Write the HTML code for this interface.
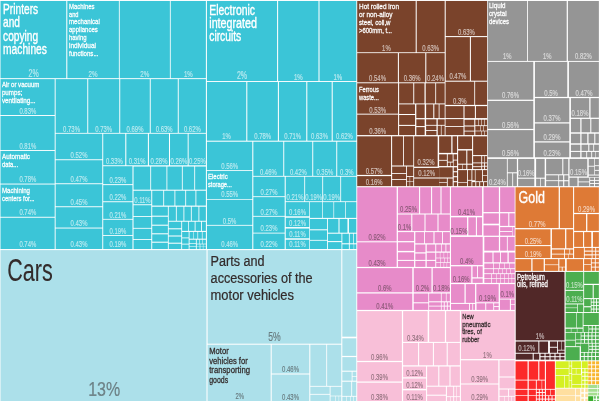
<!DOCTYPE html>
<html><head><meta charset="utf-8"><title>Treemap</title>
<style>
html,body{margin:0;padding:0;background:#fff;overflow:hidden}
svg{display:block;will-change:transform;opacity:0.999}
text{font-family:"Liberation Sans",sans-serif}
</style></head><body>
<svg width="600" height="401" viewBox="0 0 600 401">
<rect width="600" height="401" fill="#fff"/>
<g fill="#3bc5d7">
<rect x="0.5" y="0.97" width="65.78" height="77.21"/>
<rect x="67.32" y="0.97" width="51.56" height="77.21"/>
<rect x="119.72" y="0.97" width="50.16" height="77.21"/>
<rect x="170.72" y="0.97" width="35.16" height="77.21"/>
<rect x="206.92" y="0.97" width="70.16" height="80.06"/>
<rect x="278.12" y="0.97" width="40.36" height="80.06"/>
<rect x="319.52" y="0.97" width="36.81" height="80.06"/>
<rect x="0.5" y="79.12" width="54.18" height="35.91"/>
<rect x="0.5" y="115.97" width="54.18" height="34.01"/>
<rect x="0.5" y="150.92" width="54.18" height="32.66"/>
<rect x="0.5" y="184.52" width="54.18" height="32.26"/>
<rect x="0.5" y="217.72" width="54.18" height="31.31"/>
<rect x="55.62" y="79.12" width="31.66" height="53.76"/>
<rect x="88.22" y="79.12" width="31.06" height="53.76"/>
<rect x="120.22" y="79.12" width="29.56" height="53.76"/>
<rect x="150.72" y="79.12" width="27.06" height="53.76"/>
<rect x="178.72" y="79.12" width="27.16" height="53.76"/>
<rect x="103.22" y="133.72" width="22.06" height="31.56"/>
<rect x="126.32" y="133.72" width="21.56" height="31.56"/>
<rect x="148.92" y="133.72" width="20.06" height="31.56"/>
<rect x="170.02" y="133.72" width="17.66" height="31.56"/>
<rect x="188.62" y="133.72" width="17.26" height="31.56"/>
<rect x="55.62" y="133.72" width="46.66" height="25.56"/>
<rect x="55.62" y="160.22" width="46.66" height="23.06"/>
<rect x="55.62" y="184.22" width="46.66" height="22.06"/>
<rect x="55.62" y="207.22" width="46.66" height="20.36"/>
<rect x="55.62" y="228.52" width="46.66" height="20.51"/>
<rect x="103.22" y="166.22" width="29.26" height="17.96"/>
<rect x="103.22" y="185.12" width="29.26" height="16.16"/>
<rect x="103.22" y="202.22" width="29.26" height="16.66"/>
<rect x="103.22" y="219.72" width="29.26" height="15.36"/>
<rect x="103.22" y="235.92" width="29.26" height="13.11"/>
<rect x="133.52" y="166.52" width="16.76" height="23.16"/>
<rect x="151.12" y="166.52" width="15.36" height="23.16"/>
<rect x="167.32" y="166.52" width="14.56" height="23.16"/>
<rect x="182.72" y="166.52" width="11.56" height="23.16"/>
<rect x="195.12" y="166.52" width="10.76" height="23.16"/>
<rect x="133.52" y="190.72" width="17.76" height="13.56"/>
<rect x="152.22" y="190.72" width="11.06" height="14.86"/>
<rect x="164.12" y="190.72" width="10.36" height="14.86"/>
<rect x="175.32" y="190.72" width="9.96" height="14.86"/>
<rect x="186.12" y="190.72" width="9.36" height="14.86"/>
<rect x="196.32" y="190.72" width="9.56" height="14.86"/>
<rect x="133.52" y="205.22" width="17.76" height="10.86"/>
<rect x="133.52" y="216.92" width="17.76" height="10.96"/>
<rect x="133.52" y="228.72" width="17.76" height="10.36"/>
<rect x="133.52" y="239.92" width="17.76" height="9.11"/>
<rect x="152.22" y="206.72" width="15.66" height="8.96"/>
<rect x="152.22" y="216.72" width="15.66" height="7.96"/>
<rect x="152.22" y="225.72" width="15.66" height="7.56"/>
<rect x="152.22" y="234.32" width="15.66" height="7.36"/>
<rect x="152.22" y="242.72" width="15.66" height="6.31"/>
<rect x="168.72" y="206.72" width="7.16" height="14.06"/>
<rect x="176.72" y="206.72" width="6.76" height="14.06"/>
<rect x="184.32" y="206.72" width="6.56" height="14.06"/>
<rect x="191.72" y="206.72" width="6.76" height="14.06"/>
<rect x="199.32" y="206.72" width="6.56" height="14.06"/>
<rect x="168.72" y="221.72" width="12.56" height="6.56"/>
<rect x="168.72" y="229.32" width="12.56" height="6.16"/>
<rect x="168.72" y="236.52" width="12.56" height="6.16"/>
<rect x="168.72" y="243.72" width="12.56" height="5.31"/>
<rect x="182.12" y="221.72" width="6.16" height="9.16"/>
<rect x="189.02" y="221.72" width="5.66" height="9.16"/>
<rect x="195.52" y="221.72" width="5.56" height="9.16"/>
<rect x="201.92" y="221.72" width="3.96" height="9.16"/>
<rect x="182.12" y="231.92" width="6.56" height="5.56"/>
<rect x="182.12" y="238.32" width="6.56" height="5.36"/>
<rect x="182.12" y="244.52" width="6.56" height="4.51"/>
<rect x="189.52" y="231.92" width="3.96" height="6.76"/>
<rect x="193.92" y="231.92" width="3.56" height="6.76"/>
<rect x="198.12" y="231.92" width="3.76" height="6.76"/>
<rect x="202.52" y="231.92" width="3.36" height="6.76"/>
<rect x="189.52" y="239.72" width="6.36" height="3.56"/>
<rect x="189.52" y="243.92" width="6.36" height="2.36"/>
<rect x="189.52" y="246.72" width="6.36" height="2.31"/>
<rect x="196.72" y="239.72" width="2.56" height="3.96"/>
<rect x="199.72" y="239.72" width="2.76" height="3.96"/>
<rect x="202.92" y="239.72" width="2.96" height="3.96"/>
<rect x="196.72" y="244.32" width="2.96" height="2.36"/>
<rect x="200.32" y="244.32" width="2.56" height="2.36"/>
<rect x="203.32" y="244.32" width="2.56" height="2.36"/>
<rect x="196.72" y="246.92" width="2.96" height="2.11"/>
<rect x="200.32" y="246.92" width="2.56" height="2.11"/>
<rect x="203.32" y="246.92" width="2.56" height="2.11"/>
<rect x="206.92" y="81.97" width="39.36" height="58.71"/>
<rect x="247.32" y="81.97" width="30.56" height="58.71"/>
<rect x="278.92" y="81.97" width="27.36" height="58.71"/>
<rect x="307.32" y="81.97" width="24.36" height="58.71"/>
<rect x="332.72" y="81.97" width="23.61" height="58.71"/>
<rect x="206.92" y="141.72" width="45.36" height="28.46"/>
<rect x="253.32" y="141.72" width="29.96" height="34.16"/>
<rect x="284.22" y="141.72" width="28.06" height="34.16"/>
<rect x="313.22" y="141.72" width="23.06" height="34.16"/>
<rect x="337.22" y="141.72" width="19.11" height="34.16"/>
<rect x="206.92" y="171.02" width="45.36" height="27.96"/>
<rect x="206.92" y="199.72" width="45.36" height="25.16"/>
<rect x="206.92" y="225.72" width="45.36" height="23.31"/>
<rect x="253.32" y="176.72" width="31.36" height="19.56"/>
<rect x="253.32" y="197.12" width="31.36" height="18.76"/>
<rect x="253.32" y="216.72" width="31.36" height="15.96"/>
<rect x="253.32" y="233.52" width="31.36" height="15.51"/>
<rect x="285.72" y="176.72" width="18.56" height="24.56"/>
<rect x="305.12" y="176.72" width="17.16" height="24.56"/>
<rect x="323.12" y="176.72" width="17.16" height="24.56"/>
<rect x="341.12" y="176.72" width="15.21" height="24.56"/>
<rect x="285.72" y="202.12" width="23.56" height="14.16"/>
<rect x="285.72" y="217.72" width="23.56" height="9.36"/>
<rect x="285.72" y="228.52" width="23.56" height="9.76"/>
<rect x="285.72" y="239.72" width="23.56" height="9.31"/>
<rect x="309.92" y="202.12" width="12.36" height="15.76"/>
<rect x="322.92" y="202.12" width="10.56" height="15.76"/>
<rect x="334.12" y="202.12" width="11.16" height="15.76"/>
<rect x="345.92" y="202.12" width="10.41" height="15.76"/>
<rect x="309.92" y="218.92" width="17.16" height="10.36"/>
<rect x="309.92" y="230.32" width="17.16" height="9.56"/>
<rect x="309.92" y="240.72" width="17.16" height="8.31"/>
<rect x="327.92" y="218.92" width="10.56" height="13.76"/>
<rect x="339.52" y="218.92" width="7.96" height="13.76"/>
<rect x="348.92" y="218.92" width="7.41" height="13.76"/>
<rect x="327.92" y="233.72" width="13.56" height="7.36"/>
<rect x="327.92" y="242.12" width="13.56" height="6.91"/>
<rect x="342.32" y="233.72" width="6.56" height="9.56"/>
<rect x="342.32" y="244.32" width="6.56" height="4.71"/>
<rect x="349.72" y="233.72" width="3.36" height="9.56"/>
<rect x="353.72" y="233.72" width="2.61" height="9.56"/>
<rect x="349.72" y="244.32" width="3.96" height="4.71"/>
<rect x="354.12" y="244.32" width="2.21" height="4.71"/>
</g>
<g fill="#ace0ea">
<rect x="0.5" y="250.12" width="205.98" height="152.16"/>
<rect x="207.62" y="250.12" width="133.66" height="93.56"/>
<rect x="207.52" y="344.72" width="63.16" height="57.56"/>
<rect x="271.72" y="344.72" width="37.56" height="28.76"/>
<rect x="271.72" y="374.52" width="37.56" height="27.76"/>
<rect x="310.32" y="344.72" width="15.96" height="41.16"/>
<rect x="327.12" y="344.72" width="14.16" height="41.16"/>
<rect x="310.32" y="386.72" width="19.36" height="7.16"/>
<rect x="310.32" y="394.72" width="19.36" height="7.56"/>
<rect x="330.52" y="386.72" width="10.76" height="8.96"/>
<rect x="330.52" y="396.32" width="4.76" height="5.96"/>
<rect x="335.72" y="396.32" width="2.96" height="5.96"/>
<rect x="339.12" y="396.32" width="2.16" height="5.96"/>
<rect x="342.32" y="250.12" width="13.96" height="86.56"/>
<rect x="342.32" y="338.32" width="13.96" height="17.56"/>
<rect x="342.32" y="357.12" width="13.96" height="13.56"/>
<rect x="342.32" y="371.72" width="9.36" height="8.96"/>
<rect x="352.52" y="371.72" width="3.76" height="4.56"/>
<rect x="352.52" y="376.92" width="3.76" height="3.76"/>
<rect x="342.32" y="381.72" width="8.96" height="14.16"/>
<rect x="352.12" y="381.72" width="4.16" height="14.16"/>
<rect x="342.32" y="396.72" width="3.96" height="5.56"/>
<rect x="346.72" y="396.72" width="3.56" height="5.56"/>
<rect x="350.72" y="396.72" width="2.56" height="5.56"/>
<rect x="353.72" y="396.72" width="2.56" height="5.56"/>
</g>
<g fill="#7a432b">
<rect x="357.22" y="0.97" width="58.46" height="51.31"/>
<rect x="416.72" y="0.97" width="27.96" height="51.31"/>
<rect x="445.72" y="0.97" width="41.36" height="35.11"/>
<rect x="445.72" y="37.12" width="24.16" height="43.56"/>
<rect x="470.92" y="37.12" width="16.16" height="43.56"/>
<rect x="357.22" y="53.12" width="40.66" height="29.21"/>
<rect x="398.92" y="53.12" width="26.36" height="29.21"/>
<rect x="426.32" y="53.12" width="18.36" height="29.21"/>
<rect x="357.22" y="83.27" width="40.86" height="30.41"/>
<rect x="357.22" y="114.62" width="40.86" height="20.46"/>
<rect x="399.12" y="83.27" width="14.16" height="20.16"/>
<rect x="414.22" y="83.27" width="10.26" height="20.16"/>
<rect x="425.72" y="83.27" width="9.56" height="20.16"/>
<rect x="436.12" y="83.27" width="8.56" height="20.16"/>
<rect x="399.12" y="104.37" width="15.96" height="9.61"/>
<rect x="399.12" y="115.02" width="15.96" height="9.86"/>
<rect x="399.12" y="125.92" width="15.96" height="9.16"/>
<rect x="416.32" y="104.37" width="8.36" height="13.71"/>
<rect x="416.32" y="119.32" width="8.36" height="6.76"/>
<rect x="416.32" y="127.12" width="8.36" height="7.96"/>
<rect x="426.12" y="104.37" width="7.16" height="13.71"/>
<rect x="434.32" y="104.37" width="4.36" height="13.71"/>
<rect x="439.52" y="104.37" width="5.16" height="13.71"/>
<rect x="426.12" y="119.32" width="10.36" height="5.56"/>
<rect x="426.12" y="125.72" width="10.36" height="4.36"/>
<rect x="426.12" y="130.92" width="10.36" height="4.16"/>
<rect x="437.72" y="119.32" width="6.96" height="5.56"/>
<rect x="437.72" y="125.72" width="3.16" height="9.36"/>
<rect x="441.52" y="125.72" width="3.16" height="9.36"/>
<rect x="445.52" y="81.72" width="28.76" height="23.16"/>
<rect x="475.12" y="81.72" width="11.96" height="23.16"/>
<rect x="445.52" y="106.12" width="17.96" height="11.96"/>
<rect x="464.52" y="106.12" width="10.36" height="11.96"/>
<rect x="475.92" y="106.12" width="11.16" height="11.96"/>
<rect x="445.52" y="119.12" width="17.96" height="6.96"/>
<rect x="445.52" y="126.92" width="17.96" height="8.16"/>
<rect x="464.52" y="119.72" width="9.76" height="5.76"/>
<rect x="464.52" y="126.52" width="9.76" height="4.16"/>
<rect x="464.52" y="131.52" width="9.76" height="3.56"/>
<rect x="475.32" y="119.72" width="2.96" height="5.56"/>
<rect x="478.72" y="119.72" width="2.56" height="5.56"/>
<rect x="481.72" y="119.72" width="2.56" height="5.56"/>
<rect x="484.72" y="119.72" width="2.36" height="5.56"/>
<rect x="475.32" y="126.12" width="4.96" height="4.56"/>
<rect x="480.72" y="126.12" width="2.56" height="4.56"/>
<rect x="483.72" y="126.12" width="3.36" height="4.56"/>
<rect x="475.32" y="131.32" width="5.96" height="3.76"/>
<rect x="481.72" y="131.32" width="2.56" height="3.76"/>
<rect x="484.72" y="131.32" width="2.36" height="3.76"/>
<rect x="357.22" y="136.32" width="33.86" height="38.56"/>
<rect x="357.22" y="176.12" width="33.86" height="10.01"/>
<rect x="392.12" y="136.32" width="10.96" height="29.16"/>
<rect x="403.92" y="136.32" width="9.36" height="29.16"/>
<rect x="392.12" y="166.52" width="13.96" height="6.56"/>
<rect x="392.12" y="173.92" width="13.96" height="5.16"/>
<rect x="392.12" y="179.92" width="13.96" height="6.21"/>
<rect x="406.92" y="166.52" width="6.36" height="9.56"/>
<rect x="406.92" y="176.92" width="2.76" height="4.36"/>
<rect x="410.12" y="176.92" width="3.16" height="4.36"/>
<rect x="406.92" y="181.72" width="2.76" height="4.41"/>
<rect x="410.12" y="181.72" width="3.16" height="4.41"/>
<rect x="414.12" y="136.32" width="23.56" height="30.36"/>
<rect x="414.12" y="167.92" width="24.96" height="9.56"/>
<rect x="414.12" y="178.52" width="24.96" height="7.61"/>
<rect x="439.12" y="136.32" width="12.16" height="16.56"/>
<rect x="452.52" y="136.32" width="4.56" height="16.56"/>
<rect x="458.12" y="136.32" width="13.96" height="12.76"/>
<rect x="473.12" y="136.32" width="13.96" height="18.76"/>
<rect x="458.12" y="150.52" width="8.16" height="13.16"/>
<rect x="467.32" y="150.52" width="4.76" height="13.16"/>
<rect x="439.12" y="154.32" width="7.76" height="5.56"/>
<rect x="439.12" y="160.72" width="7.76" height="5.36"/>
<rect x="447.72" y="154.32" width="4.96" height="7.36"/>
<rect x="453.52" y="154.32" width="3.56" height="5.36"/>
<rect x="447.72" y="162.52" width="2.56" height="3.56"/>
<rect x="450.72" y="162.52" width="2.56" height="3.56"/>
<rect x="453.72" y="160.52" width="3.36" height="5.56"/>
<rect x="439.12" y="167.32" width="13.56" height="10.16"/>
<rect x="439.12" y="178.52" width="7.76" height="3.56"/>
<rect x="439.12" y="182.72" width="7.76" height="3.41"/>
<rect x="447.72" y="178.52" width="4.96" height="7.61"/>
<rect x="453.72" y="167.32" width="3.36" height="3.88"/>
<rect x="453.72" y="172.29" width="3.36" height="3.88"/>
<rect x="453.72" y="177.27" width="3.36" height="3.89"/>
<rect x="453.72" y="182.25" width="3.36" height="3.88"/>
<rect x="458.12" y="164.72" width="4.16" height="4.36"/>
<rect x="462.72" y="164.72" width="3.56" height="4.36"/>
<rect x="467.32" y="164.72" width="4.76" height="4.36"/>
<rect x="458.12" y="170.12" width="8.96" height="11.96"/>
<rect x="458.12" y="182.72" width="8.96" height="3.41"/>
<rect x="467.92" y="170.12" width="3.56" height="9.76"/>
<rect x="467.92" y="180.72" width="3.56" height="5.41"/>
<rect x="473.12" y="156.12" width="8.16" height="6.36"/>
<rect x="482.12" y="156.12" width="2.16" height="6.36"/>
<rect x="484.72" y="156.12" width="2.36" height="6.36"/>
<rect x="473.12" y="163.32" width="8.16" height="2.96"/>
<rect x="482.12" y="163.32" width="2.03" height="2.44"/>
<rect x="482.12" y="166.65" width="2.03" height="2.44"/>
<rect x="485.05" y="163.32" width="2.03" height="2.44"/>
<rect x="485.05" y="166.65" width="2.03" height="2.44"/>
<rect x="473.12" y="167.12" width="8.16" height="1.96"/>
<rect x="472.32" y="170.12" width="2.56" height="10.16"/>
<rect x="475.52" y="170.12" width="6.56" height="11.16"/>
<rect x="482.92" y="170.12" width="4.16" height="5.16"/>
<rect x="482.92" y="175.92" width="4.16" height="5.36"/>
<rect x="472.32" y="182.12" width="3.02" height="4.01"/>
<rect x="476.23" y="182.12" width="3.02" height="4.01"/>
<rect x="480.15" y="182.12" width="3.02" height="4.01"/>
<rect x="484.06" y="182.12" width="3.02" height="4.01"/>
</g>
<g fill="#959595">
<rect x="487.72" y="0.97" width="39.36" height="59.96"/>
<rect x="527.92" y="0.97" width="38.76" height="59.96"/>
<rect x="567.92" y="0.97" width="30.96" height="59.96"/>
<rect x="487.72" y="61.87" width="45.56" height="37.81"/>
<rect x="487.72" y="100.92" width="45.56" height="27.96"/>
<rect x="487.72" y="130.12" width="45.56" height="27.16"/>
<rect x="534.92" y="61.87" width="32.36" height="35.01"/>
<rect x="568.92" y="61.87" width="29.96" height="35.01"/>
<rect x="534.92" y="98.12" width="34.36" height="24.16"/>
<rect x="534.92" y="123.52" width="34.36" height="17.76"/>
<rect x="534.92" y="142.52" width="34.36" height="14.76"/>
<rect x="570.92" y="98.12" width="18.36" height="19.56"/>
<rect x="590.52" y="98.12" width="8.36" height="19.56"/>
<rect x="570.92" y="118.92" width="9.36" height="13.36"/>
<rect x="581.52" y="118.92" width="8.76" height="13.36"/>
<rect x="591.32" y="118.92" width="7.56" height="13.36"/>
<rect x="570.92" y="133.72" width="9.36" height="9.56"/>
<rect x="581.52" y="133.72" width="5.76" height="9.56"/>
<rect x="588.52" y="133.72" width="5.76" height="9.56"/>
<rect x="595.32" y="133.72" width="3.56" height="9.56"/>
<rect x="570.92" y="144.72" width="9.36" height="6.16"/>
<rect x="581.52" y="144.72" width="6.76" height="6.16"/>
<rect x="589.32" y="144.72" width="3.96" height="6.16"/>
<rect x="594.12" y="144.72" width="4.76" height="6.16"/>
<rect x="570.92" y="151.92" width="9.36" height="5.36"/>
<rect x="581.52" y="151.92" width="4.76" height="5.36"/>
<rect x="587.12" y="151.92" width="4.16" height="5.36"/>
<rect x="592.12" y="151.92" width="3.16" height="5.36"/>
<rect x="595.72" y="151.92" width="3.16" height="5.36"/>
<rect x="487.72" y="158.92" width="19.16" height="27.21"/>
<rect x="507.72" y="158.92" width="9.16" height="13.36"/>
<rect x="507.72" y="173.32" width="4.56" height="12.81"/>
<rect x="513.12" y="173.32" width="3.76" height="12.81"/>
<rect x="518.12" y="158.92" width="16.16" height="18.76"/>
<rect x="518.12" y="178.72" width="16.16" height="7.41"/>
<rect x="536.12" y="158.92" width="8.56" height="18.76"/>
<rect x="536.12" y="178.72" width="4.16" height="7.41"/>
<rect x="540.92" y="178.72" width="3.76" height="7.41"/>
<rect x="546.12" y="158.92" width="16.16" height="15.36"/>
<rect x="563.32" y="158.92" width="4.96" height="15.36"/>
<rect x="546.12" y="175.32" width="12.16" height="4.96"/>
<rect x="546.12" y="181.12" width="12.16" height="5.01"/>
<rect x="559.12" y="175.32" width="4.03" height="4.86"/>
<rect x="559.12" y="181.27" width="4.03" height="4.86"/>
<rect x="564.25" y="175.32" width="4.03" height="4.86"/>
<rect x="564.25" y="181.27" width="4.03" height="4.86"/>
<rect x="569.52" y="158.92" width="17.76" height="17.56"/>
<rect x="569.52" y="177.72" width="7.96" height="8.41"/>
<rect x="578.62" y="177.72" width="10.66" height="3.76"/>
<rect x="578.62" y="182.32" width="10.66" height="3.81"/>
<rect x="588.72" y="158.92" width="5.56" height="6.86"/>
<rect x="588.72" y="166.62" width="5.56" height="7.96"/>
<rect x="594.92" y="158.92" width="3.96" height="6.36"/>
<rect x="594.92" y="166.12" width="3.96" height="3.79"/>
<rect x="594.92" y="170.8" width="3.96" height="3.78"/>
<rect x="588.72" y="175.52" width="10.16" height="1.66"/>
<rect x="590.12" y="177.72" width="3.93" height="2.21"/>
<rect x="590.12" y="180.82" width="3.93" height="2.21"/>
<rect x="590.12" y="183.92" width="3.93" height="2.21"/>
<rect x="594.95" y="177.72" width="3.93" height="2.21"/>
<rect x="594.95" y="180.82" width="3.93" height="2.21"/>
<rect x="594.95" y="183.92" width="3.93" height="2.21"/>
</g>
<g fill="#e78bc9">
<rect x="357.22" y="187.27" width="39.46" height="54.01"/>
<rect x="357.22" y="242.32" width="39.46" height="24.56"/>
<rect x="357.22" y="268.12" width="55.06" height="24.16"/>
<rect x="357.22" y="293.52" width="55.06" height="16.36"/>
<rect x="397.92" y="187.27" width="21.16" height="26.21"/>
<rect x="420.12" y="187.27" width="10.96" height="26.21"/>
<rect x="432.12" y="187.27" width="8.36" height="26.21"/>
<rect x="441.52" y="187.27" width="8.36" height="26.21"/>
<rect x="397.92" y="214.52" width="13.36" height="16.56"/>
<rect x="412.32" y="214.52" width="12.16" height="16.56"/>
<rect x="425.52" y="214.52" width="11.96" height="16.56"/>
<rect x="438.52" y="214.52" width="11.36" height="16.56"/>
<rect x="397.92" y="232.12" width="16.16" height="8.96"/>
<rect x="415.32" y="232.12" width="8.76" height="11.16"/>
<rect x="424.92" y="232.12" width="8.56" height="11.16"/>
<rect x="434.52" y="232.12" width="7.56" height="11.16"/>
<rect x="442.92" y="232.12" width="6.96" height="11.16"/>
<rect x="397.92" y="242.32" width="16.16" height="8.56"/>
<rect x="397.92" y="252.32" width="16.16" height="7.56"/>
<rect x="397.92" y="260.92" width="16.16" height="5.96"/>
<rect x="415.32" y="244.52" width="10.16" height="7.76"/>
<rect x="415.32" y="253.52" width="10.16" height="6.36"/>
<rect x="415.32" y="260.92" width="10.16" height="5.96"/>
<rect x="426.72" y="244.52" width="8.56" height="6.96"/>
<rect x="426.72" y="252.72" width="8.56" height="7.16"/>
<rect x="426.72" y="260.92" width="8.56" height="5.96"/>
<rect x="436.22" y="244.52" width="5.06" height="6.96"/>
<rect x="441.92" y="244.52" width="3.56" height="6.96"/>
<rect x="446.32" y="244.52" width="3.56" height="6.96"/>
<rect x="436.22" y="252.72" width="3.66" height="4.96"/>
<rect x="440.32" y="252.72" width="3.36" height="4.96"/>
<rect x="444.12" y="252.72" width="2.96" height="4.96"/>
<rect x="447.32" y="252.72" width="2.56" height="4.96"/>
<rect x="436.22" y="258.32" width="4.06" height="3.96"/>
<rect x="440.72" y="258.32" width="3.56" height="3.96"/>
<rect x="444.72" y="258.32" width="2.56" height="3.96"/>
<rect x="447.72" y="258.32" width="2.16" height="3.96"/>
<rect x="436.22" y="262.92" width="4.06" height="3.96"/>
<rect x="440.72" y="262.92" width="2.96" height="3.96"/>
<rect x="444.12" y="262.92" width="2.56" height="3.96"/>
<rect x="447.12" y="262.92" width="2.76" height="3.96"/>
<rect x="413.72" y="268.12" width="17.76" height="24.16"/>
<rect x="432.72" y="268.12" width="17.16" height="24.16"/>
<rect x="413.72" y="293.52" width="14.56" height="8.76"/>
<rect x="413.72" y="303.32" width="14.56" height="6.56"/>
<rect x="429.12" y="293.52" width="11.76" height="7.76"/>
<rect x="429.12" y="302.32" width="11.76" height="3.36"/>
<rect x="429.12" y="306.52" width="11.76" height="3.36"/>
<rect x="441.62" y="293.52" width="4.26" height="7.76"/>
<rect x="446.52" y="293.52" width="3.36" height="7.76"/>
<rect x="441.62" y="302.32" width="2.16" height="3.33"/>
<rect x="441.62" y="306.55" width="2.16" height="3.33"/>
<rect x="444.67" y="302.32" width="2.16" height="3.33"/>
<rect x="444.67" y="306.55" width="2.16" height="3.33"/>
<rect x="447.72" y="302.32" width="2.16" height="3.33"/>
<rect x="447.72" y="306.55" width="2.16" height="3.33"/>
<rect x="451.02" y="187.27" width="31.06" height="28.61"/>
<rect x="451.02" y="217.32" width="16.06" height="17.96"/>
<rect x="468.32" y="217.32" width="7.56" height="17.96"/>
<rect x="476.92" y="217.32" width="5.16" height="17.96"/>
<rect x="451.02" y="236.92" width="31.66" height="28.16"/>
<rect x="451.02" y="266.32" width="20.26" height="16.56"/>
<rect x="472.52" y="266.32" width="4.56" height="10.96"/>
<rect x="477.92" y="266.32" width="4.76" height="10.96"/>
<rect x="472.52" y="278.52" width="10.16" height="4.36"/>
<rect x="451.02" y="284.12" width="13.46" height="18.76"/>
<rect x="465.72" y="284.12" width="9.36" height="18.76"/>
<rect x="451.02" y="303.92" width="18.06" height="5.96"/>
<rect x="469.92" y="303.92" width="2.46" height="5.96"/>
<rect x="473.12" y="303.92" width="1.96" height="5.96"/>
<rect x="476.32" y="284.12" width="22.36" height="18.16"/>
<rect x="476.52" y="303.32" width="8.76" height="6.56"/>
<rect x="486.22" y="303.32" width="7.06" height="6.56"/>
<rect x="494.12" y="303.32" width="4.56" height="2.83"/>
<rect x="494.12" y="307.05" width="4.56" height="2.83"/>
<rect x="499.92" y="284.12" width="14.76" height="14.56"/>
<rect x="499.92" y="299.52" width="9.96" height="10.36"/>
<rect x="510.92" y="299.52" width="3.76" height="4.76"/>
<rect x="510.92" y="304.92" width="3.76" height="4.96"/>
<rect x="483.52" y="187.27" width="15.36" height="24.81"/>
<rect x="500.12" y="187.27" width="14.56" height="24.81"/>
<rect x="483.52" y="213.32" width="15.36" height="10.36"/>
<rect x="483.52" y="225.32" width="15.36" height="10.36"/>
<rect x="500.12" y="213.32" width="8.16" height="12.56"/>
<rect x="509.32" y="213.32" width="5.36" height="12.56"/>
<rect x="500.12" y="227.12" width="11.96" height="3.96"/>
<rect x="500.12" y="231.92" width="11.96" height="3.76"/>
<rect x="512.52" y="227.12" width="2.16" height="8.56"/>
<rect x="484.32" y="236.92" width="14.56" height="13.76"/>
<rect x="500.12" y="236.92" width="6.76" height="13.76"/>
<rect x="507.72" y="236.92" width="6.96" height="13.76"/>
<rect x="484.32" y="252.52" width="8.16" height="9.76"/>
<rect x="493.52" y="252.52" width="6.56" height="9.76"/>
<rect x="500.92" y="252.52" width="6.56" height="9.76"/>
<rect x="508.72" y="252.52" width="5.96" height="9.76"/>
<rect x="484.32" y="263.52" width="8.96" height="4.76"/>
<rect x="493.92" y="263.52" width="5.36" height="4.76"/>
<rect x="499.92" y="263.52" width="4.36" height="4.76"/>
<rect x="504.72" y="263.52" width="4.56" height="4.76"/>
<rect x="509.72" y="263.52" width="4.96" height="4.76"/>
<rect x="484.32" y="269.12" width="8.96" height="4.16"/>
<rect x="493.92" y="269.12" width="4.36" height="4.16"/>
<rect x="498.72" y="269.12" width="3.56" height="4.16"/>
<rect x="502.72" y="269.12" width="3.56" height="4.16"/>
<rect x="506.72" y="269.12" width="3.56" height="4.16"/>
<rect x="510.72" y="269.12" width="3.96" height="4.16"/>
<rect x="484.32" y="274.12" width="6.96" height="4.16"/>
<rect x="491.92" y="274.12" width="4.36" height="4.16"/>
<rect x="496.72" y="274.12" width="3.56" height="4.16"/>
<rect x="500.72" y="274.12" width="3.56" height="4.16"/>
<rect x="504.72" y="274.12" width="3.56" height="4.16"/>
<rect x="508.72" y="274.12" width="2.96" height="4.16"/>
<rect x="512.12" y="274.12" width="2.56" height="4.16"/>
<rect x="484.32" y="278.92" width="6.96" height="3.96"/>
<rect x="491.92" y="278.92" width="4.36" height="3.96"/>
<rect x="496.72" y="278.92" width="3.56" height="3.96"/>
<rect x="500.72" y="278.92" width="3.56" height="3.96"/>
<rect x="504.72" y="278.92" width="3.56" height="3.96"/>
<rect x="508.72" y="278.92" width="2.96" height="3.96"/>
<rect x="512.12" y="278.92" width="2.56" height="3.96"/>
</g>
<g fill="#f8bfd8">
<rect x="357.22" y="311.12" width="44.66" height="49.76"/>
<rect x="357.22" y="362.12" width="44.66" height="19.36"/>
<rect x="357.22" y="382.72" width="44.66" height="19.56"/>
<rect x="403.12" y="311.12" width="24.56" height="30.76"/>
<rect x="429.12" y="311.12" width="15.76" height="30.76"/>
<rect x="446.12" y="311.12" width="13.76" height="30.76"/>
<rect x="403.12" y="342.92" width="14.96" height="22.36"/>
<rect x="419.12" y="342.92" width="13.76" height="22.36"/>
<rect x="433.92" y="342.92" width="12.76" height="22.36"/>
<rect x="447.72" y="342.92" width="12.16" height="22.36"/>
<rect x="403.12" y="366.52" width="22.96" height="10.76"/>
<rect x="403.12" y="378.52" width="22.96" height="10.36"/>
<rect x="403.12" y="390.32" width="22.96" height="11.96"/>
<rect x="427.12" y="366.52" width="11.16" height="19.16"/>
<rect x="439.32" y="366.52" width="10.16" height="19.16"/>
<rect x="450.52" y="366.52" width="9.36" height="19.16"/>
<rect x="427.12" y="386.72" width="18.76" height="7.96"/>
<rect x="427.12" y="395.72" width="18.76" height="6.56"/>
<rect x="446.92" y="386.72" width="6.36" height="9.56"/>
<rect x="454.12" y="386.72" width="2.16" height="9.56"/>
<rect x="456.72" y="386.72" width="3.16" height="9.56"/>
<rect x="446.92" y="397.12" width="3.36" height="5.16"/>
<rect x="450.72" y="397.12" width="2.56" height="5.16"/>
<rect x="454.12" y="397.12" width="2.16" height="5.16"/>
<rect x="456.72" y="397.12" width="3.16" height="5.16"/>
<rect x="460.92" y="311.12" width="53.76" height="47.96"/>
<rect x="460.92" y="360.32" width="37.36" height="23.16"/>
<rect x="460.92" y="384.52" width="37.36" height="17.76"/>
<rect x="499.52" y="360.32" width="15.16" height="16.16"/>
<rect x="499.52" y="377.52" width="15.16" height="10.96"/>
<rect x="499.52" y="389.52" width="8.56" height="6.36"/>
<rect x="508.92" y="389.52" width="5.76" height="6.36"/>
<rect x="499.52" y="396.72" width="4.76" height="5.56"/>
<rect x="504.72" y="396.72" width="3.56" height="5.56"/>
<rect x="508.72" y="396.72" width="2.56" height="5.56"/>
<rect x="511.72" y="396.72" width="2.96" height="5.56"/>
</g>
<g fill="#de7a36">
<rect x="515.47" y="187.27" width="43.21" height="40.81"/>
<rect x="559.92" y="187.27" width="13.16" height="40.81"/>
<rect x="574.12" y="187.27" width="24.76" height="25.61"/>
<rect x="574.12" y="214.12" width="11.96" height="16.76"/>
<rect x="587.32" y="214.12" width="11.56" height="16.76"/>
<rect x="515.47" y="229.32" width="35.01" height="15.76"/>
<rect x="515.47" y="246.12" width="35.01" height="11.96"/>
<rect x="551.92" y="229.32" width="13.16" height="18.96"/>
<rect x="566.32" y="229.32" width="6.76" height="18.96"/>
<rect x="574.12" y="232.12" width="8.96" height="14.76"/>
<rect x="584.12" y="232.12" width="7.16" height="14.76"/>
<rect x="592.92" y="232.12" width="5.96" height="14.76"/>
<rect x="551.92" y="249.52" width="12.16" height="4.16"/>
<rect x="551.92" y="254.52" width="12.16" height="3.56"/>
<rect x="564.92" y="249.52" width="4.56" height="4.16"/>
<rect x="570.12" y="249.52" width="2.96" height="4.16"/>
<rect x="564.92" y="254.52" width="3.36" height="3.56"/>
<rect x="568.72" y="254.52" width="4.36" height="3.56"/>
<rect x="574.12" y="247.92" width="9.76" height="10.16"/>
<rect x="584.72" y="247.92" width="6.96" height="2.66"/>
<rect x="584.72" y="251.67" width="6.96" height="2.66"/>
<rect x="584.72" y="255.42" width="6.96" height="2.66"/>
<rect x="592.52" y="247.92" width="2.73" height="2.79"/>
<rect x="592.52" y="251.6" width="2.73" height="2.79"/>
<rect x="592.52" y="255.29" width="2.73" height="2.79"/>
<rect x="596.14" y="247.92" width="2.74" height="2.79"/>
<rect x="596.14" y="251.6" width="2.74" height="2.79"/>
<rect x="596.14" y="255.29" width="2.74" height="2.79"/>
<rect x="515.47" y="259.12" width="15.81" height="11.76"/>
<rect x="532.52" y="259.12" width="11.16" height="11.76"/>
<rect x="544.92" y="259.12" width="13.36" height="5.36"/>
<rect x="544.92" y="265.12" width="13.36" height="5.76"/>
<rect x="559.32" y="259.12" width="5.76" height="7.66"/>
<rect x="559.32" y="267.32" width="2.43" height="3.56"/>
<rect x="562.64" y="267.32" width="2.43" height="3.56"/>
<rect x="566.72" y="259.12" width="16.36" height="11.76"/>
<rect x="584.12" y="259.12" width="6.76" height="5.16"/>
<rect x="584.12" y="264.92" width="6.76" height="5.96"/>
<rect x="591.72" y="259.12" width="3.13" height="3.33"/>
<rect x="591.72" y="263.34" width="3.13" height="3.33"/>
<rect x="591.72" y="267.55" width="3.13" height="3.33"/>
<rect x="595.75" y="259.12" width="3.13" height="3.33"/>
<rect x="595.75" y="263.34" width="3.13" height="3.33"/>
<rect x="595.75" y="267.55" width="3.13" height="3.33"/>
</g>
<g fill="#512828">
<rect x="515.72" y="271.92" width="48.76" height="68.46"/>
<rect x="515.72" y="341.52" width="22.66" height="11.26"/>
<rect x="539.32" y="341.52" width="8.76" height="11.26"/>
<rect x="549.92" y="341.52" width="7.16" height="5.26"/>
<rect x="549.92" y="347.72" width="7.16" height="5.06"/>
<rect x="557.92" y="341.52" width="3.26" height="8.26"/>
<rect x="561.52" y="341.52" width="2.96" height="8.26"/>
<rect x="557.92" y="350.52" width="6.56" height="2.26"/>
<rect x="515.72" y="353.72" width="16.96" height="5.96"/>
<rect x="533.72" y="353.72" width="5.56" height="5.96"/>
<rect x="540.52" y="353.72" width="4" height="2.48"/>
<rect x="540.52" y="357.19" width="4" height="2.48"/>
<rect x="545.51" y="353.72" width="4" height="2.48"/>
<rect x="545.51" y="357.19" width="4" height="2.48"/>
<rect x="550.5" y="353.72" width="4" height="2.48"/>
<rect x="550.5" y="357.19" width="4" height="2.48"/>
<rect x="555.49" y="353.72" width="4" height="2.48"/>
<rect x="555.49" y="357.19" width="4" height="2.48"/>
<rect x="560.48" y="353.72" width="4" height="2.48"/>
<rect x="560.48" y="357.19" width="4" height="2.48"/>
</g>
<g fill="#4cae4f">
<rect x="565.62" y="271.92" width="17.66" height="17.96"/>
<rect x="565.62" y="290.82" width="17.66" height="12.66"/>
<rect x="565.62" y="304.42" width="11.46" height="3.16"/>
<rect x="565.62" y="308.12" width="11.46" height="3.96"/>
<rect x="577.72" y="304.42" width="5.56" height="7.66"/>
<rect x="565.62" y="313.02" width="10.66" height="14.56"/>
<rect x="576.82" y="313.02" width="5.86" height="14.56"/>
<rect x="584.12" y="271.92" width="14.76" height="11.86"/>
<rect x="584.12" y="285.02" width="8.56" height="13.06"/>
<rect x="593.72" y="285.02" width="5.16" height="13.06"/>
<rect x="584.12" y="299.12" width="6.66" height="7.06"/>
<rect x="584.12" y="307.32" width="6.66" height="4.76"/>
<rect x="591.52" y="299.12" width="1.86" height="2.57"/>
<rect x="591.52" y="302.58" width="1.86" height="2.57"/>
<rect x="591.52" y="306.05" width="1.86" height="2.57"/>
<rect x="591.52" y="309.51" width="1.86" height="2.57"/>
<rect x="594.27" y="299.12" width="1.86" height="2.57"/>
<rect x="594.27" y="302.58" width="1.86" height="2.57"/>
<rect x="594.27" y="306.05" width="1.86" height="2.57"/>
<rect x="594.27" y="309.51" width="1.86" height="2.57"/>
<rect x="597.02" y="299.12" width="1.86" height="2.57"/>
<rect x="597.02" y="302.58" width="1.86" height="2.57"/>
<rect x="597.02" y="306.05" width="1.86" height="2.57"/>
<rect x="597.02" y="309.51" width="1.86" height="2.57"/>
<rect x="583.52" y="313.02" width="15.36" height="11.96"/>
<rect x="565.62" y="328.72" width="5.26" height="3.36"/>
<rect x="571.32" y="328.72" width="5.56" height="3.36"/>
<rect x="577.32" y="328.72" width="5.36" height="3.36"/>
<rect x="583.52" y="325.92" width="4.96" height="6.16"/>
<rect x="589.12" y="325.92" width="2.66" height="2.63"/>
<rect x="589.12" y="329.45" width="2.66" height="2.63"/>
<rect x="592.67" y="325.92" width="2.66" height="2.63"/>
<rect x="592.67" y="329.45" width="2.66" height="2.63"/>
<rect x="596.22" y="325.92" width="2.66" height="2.63"/>
<rect x="596.22" y="329.45" width="2.66" height="2.63"/>
<rect x="565.62" y="332.72" width="9.66" height="7.06"/>
<rect x="575.82" y="332.72" width="4.86" height="6.76"/>
<rect x="581.32" y="332.72" width="2.8" height="2.79"/>
<rect x="581.32" y="336.4" width="2.8" height="2.79"/>
<rect x="581.32" y="340.09" width="2.8" height="2.79"/>
<rect x="585.01" y="332.72" width="2.8" height="2.79"/>
<rect x="585.01" y="336.4" width="2.8" height="2.79"/>
<rect x="585.01" y="340.09" width="2.8" height="2.79"/>
<rect x="588.7" y="332.72" width="2.8" height="2.79"/>
<rect x="588.7" y="336.4" width="2.8" height="2.79"/>
<rect x="588.7" y="340.09" width="2.8" height="2.79"/>
<rect x="592.39" y="332.72" width="2.8" height="2.79"/>
<rect x="592.39" y="336.4" width="2.8" height="2.79"/>
<rect x="592.39" y="340.09" width="2.8" height="2.79"/>
<rect x="596.08" y="332.72" width="2.8" height="2.79"/>
<rect x="596.08" y="336.4" width="2.8" height="2.79"/>
<rect x="596.08" y="340.09" width="2.8" height="2.79"/>
<rect x="565.62" y="340.52" width="9.66" height="5.66"/>
<rect x="575.82" y="340.12" width="4.86" height="2.63"/>
<rect x="575.82" y="343.65" width="4.86" height="2.63"/>
<rect x="565.62" y="347.12" width="14.06" height="13.16"/>
<rect x="580.92" y="343.62" width="7.56" height="8.36"/>
<rect x="589.12" y="343.62" width="2.66" height="2.19"/>
<rect x="589.12" y="346.7" width="2.66" height="2.19"/>
<rect x="589.12" y="349.79" width="2.66" height="2.19"/>
<rect x="592.67" y="343.62" width="2.66" height="2.19"/>
<rect x="592.67" y="346.7" width="2.66" height="2.19"/>
<rect x="592.67" y="349.79" width="2.66" height="2.19"/>
<rect x="596.22" y="343.62" width="2.66" height="2.19"/>
<rect x="596.22" y="346.7" width="2.66" height="2.19"/>
<rect x="596.22" y="349.79" width="2.66" height="2.19"/>
<rect x="580.92" y="352.72" width="2.88" height="3.33"/>
<rect x="580.92" y="356.95" width="2.88" height="3.33"/>
<rect x="584.69" y="352.72" width="2.88" height="3.33"/>
<rect x="584.69" y="356.95" width="2.88" height="3.33"/>
<rect x="588.46" y="352.72" width="2.88" height="3.33"/>
<rect x="588.46" y="356.95" width="2.88" height="3.33"/>
<rect x="592.23" y="352.72" width="2.88" height="3.33"/>
<rect x="592.23" y="356.95" width="2.88" height="3.33"/>
<rect x="596" y="352.72" width="2.88" height="3.33"/>
<rect x="596" y="356.95" width="2.88" height="3.33"/>
</g>
<g fill="#fc2a2a">
<rect x="515.52" y="361.32" width="12.06" height="18.36"/>
<rect x="515.52" y="380.52" width="12.06" height="8.36"/>
<rect x="515.52" y="389.72" width="12.06" height="5.56"/>
<rect x="515.52" y="395.92" width="12.06" height="6.36"/>
<rect x="528.72" y="361.32" width="9.56" height="18.36"/>
<rect x="528.72" y="380.52" width="7.16" height="8.36"/>
<rect x="528.72" y="389.72" width="7.16" height="5.56"/>
<rect x="528.72" y="395.92" width="7.16" height="6.36"/>
<rect x="539.32" y="361.32" width="5.56" height="18.36"/>
<rect x="536.72" y="380.52" width="4.96" height="8.36"/>
<rect x="542.12" y="380.52" width="2.76" height="8.36"/>
<rect x="545.92" y="361.32" width="8.96" height="27.56"/>
<rect x="536.72" y="389.72" width="2.13" height="2.33"/>
<rect x="536.72" y="392.95" width="2.13" height="2.33"/>
<rect x="539.74" y="389.72" width="2.13" height="2.33"/>
<rect x="539.74" y="392.95" width="2.13" height="2.33"/>
<rect x="542.75" y="389.72" width="2.13" height="2.33"/>
<rect x="542.75" y="392.95" width="2.13" height="2.33"/>
<rect x="536.72" y="395.92" width="2.13" height="2.73"/>
<rect x="536.72" y="399.55" width="2.13" height="2.73"/>
<rect x="539.74" y="395.92" width="2.13" height="2.73"/>
<rect x="539.74" y="399.55" width="2.13" height="2.73"/>
<rect x="542.75" y="395.92" width="2.13" height="2.73"/>
<rect x="542.75" y="399.55" width="2.13" height="2.73"/>
<rect x="545.92" y="389.72" width="4.36" height="5.56"/>
<rect x="550.72" y="389.72" width="4.16" height="5.56"/>
<rect x="545.92" y="395.92" width="2.39" height="2.73"/>
<rect x="545.92" y="399.55" width="2.39" height="2.73"/>
<rect x="549.2" y="395.92" width="2.39" height="2.73"/>
<rect x="549.2" y="399.55" width="2.39" height="2.73"/>
<rect x="552.49" y="395.92" width="2.39" height="2.73"/>
<rect x="552.49" y="399.55" width="2.39" height="2.73"/>
</g>
<g fill="#d5f022">
<rect x="555.72" y="361.32" width="13.06" height="6.76"/>
<rect x="555.72" y="368.72" width="13.06" height="6.36"/>
<rect x="555.72" y="375.72" width="8.66" height="12.06"/>
<rect x="564.92" y="375.72" width="3.86" height="12.06"/>
<rect x="569.32" y="361.32" width="2.16" height="4.36"/>
<rect x="569.32" y="366.32" width="2.16" height="6.96"/>
<rect x="569.32" y="373.92" width="2.16" height="6.36"/>
<rect x="569.32" y="380.72" width="2.16" height="7.06"/>
<rect x="572.12" y="361.32" width="8.86" height="6.76"/>
<rect x="572.12" y="368.72" width="3.76" height="5.16"/>
<rect x="576.32" y="368.72" width="4.66" height="5.16"/>
<rect x="572.12" y="374.52" width="9.36" height="9.46"/>
<rect x="572.12" y="384.62" width="9.36" height="3.16"/>
<rect x="581.72" y="361.32" width="6.06" height="6.76"/>
<rect x="582.12" y="368.72" width="2.38" height="3.1"/>
<rect x="582.12" y="372.71" width="2.38" height="3.1"/>
<rect x="582.12" y="376.7" width="2.38" height="3.1"/>
<rect x="582.12" y="380.69" width="2.38" height="3.1"/>
<rect x="582.12" y="384.68" width="2.38" height="3.1"/>
<rect x="585.39" y="368.72" width="2.38" height="3.1"/>
<rect x="585.39" y="372.71" width="2.38" height="3.1"/>
<rect x="585.39" y="376.7" width="2.38" height="3.1"/>
<rect x="585.39" y="380.69" width="2.38" height="3.1"/>
<rect x="585.39" y="384.68" width="2.38" height="3.1"/>
</g>
<g fill="#ffdf9f">
<rect x="555.72" y="388.62" width="19.56" height="6.76"/>
<rect x="555.72" y="395.82" width="19.56" height="6.46"/>
<rect x="576.02" y="388.62" width="4.26" height="6.66"/>
<rect x="576.02" y="396.32" width="4.26" height="5.96"/>
<rect x="581.32" y="388.62" width="2.53" height="3.63"/>
<rect x="581.32" y="393.64" width="2.53" height="3.63"/>
<rect x="581.32" y="398.65" width="2.53" height="3.63"/>
<rect x="585.25" y="388.62" width="2.53" height="3.63"/>
<rect x="585.25" y="393.64" width="2.53" height="3.63"/>
<rect x="585.25" y="398.65" width="2.53" height="3.63"/>
</g>
<g fill="#f8b62d">
<rect x="588.22" y="361.32" width="3.03" height="3.08"/>
<rect x="588.22" y="365.3" width="3.03" height="3.08"/>
<rect x="588.22" y="369.27" width="3.03" height="3.08"/>
<rect x="588.22" y="373.25" width="3.03" height="3.08"/>
<rect x="588.22" y="377.22" width="3.03" height="3.08"/>
<rect x="588.22" y="381.2" width="3.03" height="3.08"/>
<rect x="592.14" y="361.32" width="3.03" height="3.08"/>
<rect x="592.14" y="365.3" width="3.03" height="3.08"/>
<rect x="592.14" y="369.27" width="3.03" height="3.08"/>
<rect x="592.14" y="373.25" width="3.03" height="3.08"/>
<rect x="592.14" y="377.22" width="3.03" height="3.08"/>
<rect x="592.14" y="381.2" width="3.03" height="3.08"/>
<rect x="596.05" y="361.32" width="3.03" height="3.08"/>
<rect x="596.05" y="365.3" width="3.03" height="3.08"/>
<rect x="596.05" y="369.27" width="3.03" height="3.08"/>
<rect x="596.05" y="373.25" width="3.03" height="3.08"/>
<rect x="596.05" y="377.22" width="3.03" height="3.08"/>
<rect x="596.05" y="381.2" width="3.03" height="3.08"/>
</g>
<g fill="#a5de90">
<rect x="588.22" y="384.92" width="8.96" height="3.06"/>
<rect x="588.22" y="388.82" width="8.96" height="2.96"/>
<rect x="588.22" y="392.62" width="8.96" height="2.86"/>
<rect x="597.62" y="384.92" width="1.46" height="3.06"/>
<rect x="597.62" y="388.82" width="1.46" height="2.96"/>
<rect x="597.62" y="392.62" width="1.46" height="2.86"/>
</g>
<g fill="#38ac2c">
<rect x="588.22" y="396.22" width="4.86" height="6.06"/>
</g>
<g fill="#6cc464">
<rect x="593.72" y="396.22" width="2.13" height="2.48"/>
<rect x="593.72" y="399.8" width="2.13" height="2.48"/>
<rect x="596.95" y="396.22" width="2.13" height="2.48"/>
<rect x="596.95" y="399.8" width="2.13" height="2.48"/>
</g>
<g>
<text x="3.1" y="13.75" font-size="14.3" fill="#fff" textLength="35" lengthAdjust="spacingAndGlyphs" stroke="#fff" stroke-width="0.38">Printers</text>
<text x="3.1" y="27.25" font-size="14.3" fill="#fff" textLength="16.9" lengthAdjust="spacingAndGlyphs" stroke="#fff" stroke-width="0.38">and</text>
<text x="3.1" y="40.75" font-size="14.3" fill="#fff" textLength="35" lengthAdjust="spacingAndGlyphs" stroke="#fff" stroke-width="0.38">copying</text>
<text x="3.1" y="54.25" font-size="14.3" fill="#fff" textLength="43.8" lengthAdjust="spacingAndGlyphs" stroke="#fff" stroke-width="0.38">machines</text>
<text x="69" y="8.6" font-size="8" fill="#fff" textLength="25.5" lengthAdjust="spacingAndGlyphs" stroke="#fff" stroke-width="0.27">Machines</text>
<text x="69" y="16.52" font-size="8" fill="#fff" textLength="9.5" lengthAdjust="spacingAndGlyphs" stroke="#fff" stroke-width="0.27">and</text>
<text x="69" y="24.44" font-size="8" fill="#fff" textLength="30.8" lengthAdjust="spacingAndGlyphs" stroke="#fff" stroke-width="0.27">mechanical</text>
<text x="69" y="32.36" font-size="8" fill="#fff" textLength="28.8" lengthAdjust="spacingAndGlyphs" stroke="#fff" stroke-width="0.27">appliances</text>
<text x="69" y="40.28" font-size="8" fill="#fff" textLength="17.5" lengthAdjust="spacingAndGlyphs" stroke="#fff" stroke-width="0.27">having</text>
<text x="69" y="48.2" font-size="8" fill="#fff" textLength="27" lengthAdjust="spacingAndGlyphs" stroke="#fff" stroke-width="0.27">individual</text>
<text x="69" y="56.12" font-size="8" fill="#fff" textLength="29.5" lengthAdjust="spacingAndGlyphs" stroke="#fff" stroke-width="0.27">functions...</text>
<text x="209.25" y="14.5" font-size="14" fill="#fff" textLength="45.75" lengthAdjust="spacingAndGlyphs" stroke="#fff" stroke-width="0.38">Electronic</text>
<text x="209.25" y="27.5" font-size="14" fill="#fff" textLength="47.75" lengthAdjust="spacingAndGlyphs" stroke="#fff" stroke-width="0.38">integrated</text>
<text x="209.25" y="40.5" font-size="14" fill="#fff" textLength="32" lengthAdjust="spacingAndGlyphs" stroke="#fff" stroke-width="0.38">circuits</text>
<text x="1.9" y="87.2" font-size="8" fill="#fff" textLength="37.5" lengthAdjust="spacingAndGlyphs" stroke="#fff" stroke-width="0.27">Air or vacuum</text>
<text x="1.9" y="94.95" font-size="8" fill="#fff" textLength="20.3" lengthAdjust="spacingAndGlyphs" stroke="#fff" stroke-width="0.27">pumps;</text>
<text x="1.9" y="102.7" font-size="8" fill="#fff" textLength="33.7" lengthAdjust="spacingAndGlyphs" stroke="#fff" stroke-width="0.27">ventilating...</text>
<text x="2" y="158.5" font-size="8" fill="#fff" textLength="28" lengthAdjust="spacingAndGlyphs" stroke="#fff" stroke-width="0.27">Automatic</text>
<text x="2" y="166.5" font-size="8" fill="#fff" textLength="16" lengthAdjust="spacingAndGlyphs" stroke="#fff" stroke-width="0.27">data...</text>
<text x="2" y="193.0" font-size="8" fill="#fff" textLength="28" lengthAdjust="spacingAndGlyphs" stroke="#fff" stroke-width="0.27">Machining</text>
<text x="2" y="200.8" font-size="8" fill="#fff" textLength="32.5" lengthAdjust="spacingAndGlyphs" stroke="#fff" stroke-width="0.27">centers for...</text>
<text x="208" y="179.0" font-size="8" fill="#fff" textLength="19.7" lengthAdjust="spacingAndGlyphs" stroke="#fff" stroke-width="0.27">Electric</text>
<text x="208" y="186.9" font-size="8" fill="#fff" textLength="23.75" lengthAdjust="spacingAndGlyphs" stroke="#fff" stroke-width="0.27">storage...</text>
<text x="359" y="8.5" font-size="8" fill="#fff" textLength="40" lengthAdjust="spacingAndGlyphs" stroke="#fff" stroke-width="0.27">Hot rolled iron</text>
<text x="359" y="16.5" font-size="8" fill="#fff" textLength="33.5" lengthAdjust="spacingAndGlyphs" stroke="#fff" stroke-width="0.27">or non-alloy</text>
<text x="359" y="24.5" font-size="8" fill="#fff" textLength="31.5" lengthAdjust="spacingAndGlyphs" stroke="#fff" stroke-width="0.27">steel, coil,w</text>
<text x="359" y="32.5" font-size="8" fill="#fff" textLength="33" lengthAdjust="spacingAndGlyphs" stroke="#fff" stroke-width="0.27">&gt;600mm, t...</text>
<text x="359" y="91.6" font-size="8" fill="#fff" textLength="19.75" lengthAdjust="spacingAndGlyphs" stroke="#fff" stroke-width="0.27">Ferrous</text>
<text x="359" y="99.6" font-size="8" fill="#fff" textLength="19.75" lengthAdjust="spacingAndGlyphs" stroke="#fff" stroke-width="0.27">waste...</text>
<text x="488.9" y="8.1" font-size="8" fill="#fff" textLength="16.6" lengthAdjust="spacingAndGlyphs" stroke="#fff" stroke-width="0.27">Liquid</text>
<text x="488.9" y="16.1" font-size="8" fill="#fff" textLength="17.7" lengthAdjust="spacingAndGlyphs" stroke="#fff" stroke-width="0.27">crystal</text>
<text x="488.9" y="24.1" font-size="8" fill="#fff" textLength="20.1" lengthAdjust="spacingAndGlyphs" stroke="#fff" stroke-width="0.27">devices</text>
<text x="518.6" y="203.2" font-size="16" fill="#fff" textLength="26.3" lengthAdjust="spacingAndGlyphs" stroke="#fff" stroke-width="0.38">Gold</text>
<text x="517" y="279.6" font-size="8.2" fill="#fff" textLength="28" lengthAdjust="spacingAndGlyphs" stroke="#fff" stroke-width="0.27">Petroleum</text>
<text x="517" y="287.3" font-size="8.2" fill="#fff" textLength="31" lengthAdjust="spacingAndGlyphs" stroke="#fff" stroke-width="0.27">oils, refined</text>
<text x="462.2" y="318.6" font-size="8" fill="#332b2b" textLength="11.6" lengthAdjust="spacingAndGlyphs" stroke="#332b2b" stroke-width="0.27">New</text>
<text x="462.2" y="326.5" font-size="8" fill="#332b2b" textLength="28.3" lengthAdjust="spacingAndGlyphs" stroke="#332b2b" stroke-width="0.27">pneumatic</text>
<text x="462.2" y="334.4" font-size="8" fill="#332b2b" textLength="19.6" lengthAdjust="spacingAndGlyphs" stroke="#332b2b" stroke-width="0.27">tires, of</text>
<text x="462.2" y="342.3" font-size="8" fill="#332b2b" textLength="17.1" lengthAdjust="spacingAndGlyphs" stroke="#332b2b" stroke-width="0.27">rubber</text>
<text x="7.2" y="281.25" font-size="31.4" fill="#332b2b" textLength="45.6" lengthAdjust="spacingAndGlyphs" stroke="#332b2b" stroke-width="0.1">Cars</text>
<text x="210.6" y="265.5" font-size="14" fill="#332b2b" textLength="54" lengthAdjust="spacingAndGlyphs" stroke="#332b2b" stroke-width="0.22">Parts and</text>
<text x="210.6" y="282.5" font-size="14" fill="#332b2b" textLength="102" lengthAdjust="spacingAndGlyphs" stroke="#332b2b" stroke-width="0.22">accessories of the</text>
<text x="210.6" y="299.5" font-size="14" fill="#332b2b" textLength="83.4" lengthAdjust="spacingAndGlyphs" stroke="#332b2b" stroke-width="0.22">motor vehicles</text>
<text x="209.2" y="354.2" font-size="9" fill="#332b2b" textLength="19.5" lengthAdjust="spacingAndGlyphs" stroke="#332b2b" stroke-width="0.27">Motor</text>
<text x="209.2" y="363.65" font-size="9" fill="#332b2b" textLength="38.5" lengthAdjust="spacingAndGlyphs" stroke="#332b2b" stroke-width="0.27">vehicles for</text>
<text x="209.2" y="373.1" font-size="9" fill="#332b2b" textLength="40.8" lengthAdjust="spacingAndGlyphs" stroke="#332b2b" stroke-width="0.27">transporting</text>
<text x="209.2" y="382.55" font-size="9" fill="#332b2b" textLength="19" lengthAdjust="spacingAndGlyphs" stroke="#332b2b" stroke-width="0.27">goods</text>
<text transform="translate(33.6,76.7) scale(0.64,1)" text-anchor="middle" font-size="11" fill="#fff" fill-opacity="0.56" stroke="#fff" stroke-opacity="0.56" stroke-width="0.22">2%</text>
<text transform="translate(93.1,76.5) scale(0.66,1)" text-anchor="middle" font-size="9.5" fill="#fff" fill-opacity="0.56" stroke="#fff" stroke-opacity="0.56" stroke-width="0.22">2%</text>
<text transform="translate(144.8,76.5) scale(0.66,1)" text-anchor="middle" font-size="9.5" fill="#fff" fill-opacity="0.56" stroke="#fff" stroke-opacity="0.56" stroke-width="0.22">2%</text>
<text transform="translate(188.3,77.0) scale(0.68,1)" text-anchor="middle" font-size="9" fill="#fff" fill-opacity="0.56" stroke="#fff" stroke-opacity="0.56" stroke-width="0.22">1%</text>
<text transform="translate(242,79.2) scale(0.64,1)" text-anchor="middle" font-size="11" fill="#fff" fill-opacity="0.56" stroke="#fff" stroke-opacity="0.56" stroke-width="0.22">2%</text>
<text transform="translate(298.3,79.5) scale(0.68,1)" text-anchor="middle" font-size="9" fill="#fff" fill-opacity="0.56" stroke="#fff" stroke-opacity="0.56" stroke-width="0.22">1%</text>
<text transform="translate(337.8,79.5) scale(0.68,1)" text-anchor="middle" font-size="9" fill="#fff" fill-opacity="0.56" stroke="#fff" stroke-opacity="0.56" stroke-width="0.22">1%</text>
<text transform="translate(27.8,113.6) scale(0.64,1)" text-anchor="middle" font-size="9.3" fill="#fff" fill-opacity="0.56" stroke="#fff" stroke-opacity="0.56" stroke-width="0.22">0.83%</text>
<text transform="translate(27.8,148.6) scale(0.64,1)" text-anchor="middle" font-size="9.3" fill="#fff" fill-opacity="0.56" stroke="#fff" stroke-opacity="0.56" stroke-width="0.22">0.81%</text>
<text transform="translate(27.8,182.2) scale(0.64,1)" text-anchor="middle" font-size="9.3" fill="#fff" fill-opacity="0.56" stroke="#fff" stroke-opacity="0.56" stroke-width="0.22">0.78%</text>
<text transform="translate(27.8,214.8) scale(0.64,1)" text-anchor="middle" font-size="9.3" fill="#fff" fill-opacity="0.56" stroke="#fff" stroke-opacity="0.56" stroke-width="0.22">0.74%</text>
<text transform="translate(27.8,247.3) scale(0.64,1)" text-anchor="middle" font-size="9.3" fill="#fff" fill-opacity="0.56" stroke="#fff" stroke-opacity="0.56" stroke-width="0.22">0.74%</text>
<text transform="translate(71.5,131.5) scale(0.64,1)" text-anchor="middle" font-size="9.3" fill="#fff" fill-opacity="0.56" stroke="#fff" stroke-opacity="0.56" stroke-width="0.22">0.73%</text>
<text transform="translate(103.7,131.5) scale(0.64,1)" text-anchor="middle" font-size="9.3" fill="#fff" fill-opacity="0.56" stroke="#fff" stroke-opacity="0.56" stroke-width="0.22">0.73%</text>
<text transform="translate(135,131.5) scale(0.64,1)" text-anchor="middle" font-size="9.3" fill="#fff" fill-opacity="0.56" stroke="#fff" stroke-opacity="0.56" stroke-width="0.22">0.69%</text>
<text transform="translate(164.2,131.5) scale(0.64,1)" text-anchor="middle" font-size="9.3" fill="#fff" fill-opacity="0.56" stroke="#fff" stroke-opacity="0.56" stroke-width="0.22">0.63%</text>
<text transform="translate(192.3,131.5) scale(0.64,1)" text-anchor="middle" font-size="9.3" fill="#fff" fill-opacity="0.56" stroke="#fff" stroke-opacity="0.56" stroke-width="0.22">0.62%</text>
<text transform="translate(114.3,163.9) scale(0.64,1)" text-anchor="middle" font-size="9.3" fill="#fff" fill-opacity="0.56" stroke="#fff" stroke-opacity="0.56" stroke-width="0.22">0.33%</text>
<text transform="translate(137.1,163.9) scale(0.64,1)" text-anchor="middle" font-size="9.3" fill="#fff" fill-opacity="0.56" stroke="#fff" stroke-opacity="0.56" stroke-width="0.22">0.31%</text>
<text transform="translate(159,163.9) scale(0.64,1)" text-anchor="middle" font-size="9.3" fill="#fff" fill-opacity="0.56" stroke="#fff" stroke-opacity="0.56" stroke-width="0.22">0.28%</text>
<text transform="translate(178.9,163.9) scale(0.64,1)" text-anchor="middle" font-size="9.3" fill="#fff" fill-opacity="0.56" stroke="#fff" stroke-opacity="0.56" stroke-width="0.22">0.26%</text>
<text transform="translate(197.3,163.9) scale(0.64,1)" text-anchor="middle" font-size="9.3" fill="#fff" fill-opacity="0.56" stroke="#fff" stroke-opacity="0.56" stroke-width="0.22">0.25%</text>
<text transform="translate(79,157.9) scale(0.64,1)" text-anchor="middle" font-size="9.3" fill="#fff" fill-opacity="0.56" stroke="#fff" stroke-opacity="0.56" stroke-width="0.22">0.52%</text>
<text transform="translate(79,181.9) scale(0.64,1)" text-anchor="middle" font-size="9.3" fill="#fff" fill-opacity="0.56" stroke="#fff" stroke-opacity="0.56" stroke-width="0.22">0.47%</text>
<text transform="translate(79,204.9) scale(0.64,1)" text-anchor="middle" font-size="9.3" fill="#fff" fill-opacity="0.56" stroke="#fff" stroke-opacity="0.56" stroke-width="0.22">0.45%</text>
<text transform="translate(79,226.2) scale(0.64,1)" text-anchor="middle" font-size="9.3" fill="#fff" fill-opacity="0.56" stroke="#fff" stroke-opacity="0.56" stroke-width="0.22">0.43%</text>
<text transform="translate(79,247.3) scale(0.64,1)" text-anchor="middle" font-size="9.3" fill="#fff" fill-opacity="0.56" stroke="#fff" stroke-opacity="0.56" stroke-width="0.22">0.43%</text>
<text transform="translate(117.9,182.8) scale(0.64,1)" text-anchor="middle" font-size="9.3" fill="#fff" fill-opacity="0.56" stroke="#fff" stroke-opacity="0.56" stroke-width="0.22">0.23%</text>
<text transform="translate(117.9,199.9) scale(0.64,1)" text-anchor="middle" font-size="9.3" fill="#fff" fill-opacity="0.56" stroke="#fff" stroke-opacity="0.56" stroke-width="0.22">0.22%</text>
<text transform="translate(117.9,217.5) scale(0.64,1)" text-anchor="middle" font-size="9.3" fill="#fff" fill-opacity="0.56" stroke="#fff" stroke-opacity="0.56" stroke-width="0.22">0.21%</text>
<text transform="translate(117.9,233.7) scale(0.64,1)" text-anchor="middle" font-size="9.3" fill="#fff" fill-opacity="0.56" stroke="#fff" stroke-opacity="0.56" stroke-width="0.22">0.19%</text>
<text transform="translate(117.9,247.3) scale(0.64,1)" text-anchor="middle" font-size="9.3" fill="#fff" fill-opacity="0.56" stroke="#fff" stroke-opacity="0.56" stroke-width="0.22">0.19%</text>
<text transform="translate(142.4,202.9) scale(0.64,1)" text-anchor="middle" font-size="9.3" fill="#fff" fill-opacity="0.56" stroke="#fff" stroke-opacity="0.56" stroke-width="0.22">0.11%</text>
<text transform="translate(226.6,139.3) scale(0.64,1)" text-anchor="middle" font-size="9.3" fill="#fff" fill-opacity="0.56" stroke="#fff" stroke-opacity="0.56" stroke-width="0.22">1%</text>
<text transform="translate(262.6,139.3) scale(0.64,1)" text-anchor="middle" font-size="9.3" fill="#fff" fill-opacity="0.56" stroke="#fff" stroke-opacity="0.56" stroke-width="0.22">0.78%</text>
<text transform="translate(292.6,139.3) scale(0.64,1)" text-anchor="middle" font-size="9.3" fill="#fff" fill-opacity="0.56" stroke="#fff" stroke-opacity="0.56" stroke-width="0.22">0.71%</text>
<text transform="translate(319.5,139.3) scale(0.64,1)" text-anchor="middle" font-size="9.3" fill="#fff" fill-opacity="0.56" stroke="#fff" stroke-opacity="0.56" stroke-width="0.22">0.63%</text>
<text transform="translate(344.4,139.3) scale(0.64,1)" text-anchor="middle" font-size="9.3" fill="#fff" fill-opacity="0.56" stroke="#fff" stroke-opacity="0.56" stroke-width="0.22">0.62%</text>
<text transform="translate(229.6,168.5) scale(0.64,1)" text-anchor="middle" font-size="9.3" fill="#fff" fill-opacity="0.56" stroke="#fff" stroke-opacity="0.56" stroke-width="0.22">0.56%</text>
<text transform="translate(268.3,174.5) scale(0.64,1)" text-anchor="middle" font-size="9.3" fill="#fff" fill-opacity="0.56" stroke="#fff" stroke-opacity="0.56" stroke-width="0.22">0.46%</text>
<text transform="translate(298.3,174.5) scale(0.64,1)" text-anchor="middle" font-size="9.3" fill="#fff" fill-opacity="0.56" stroke="#fff" stroke-opacity="0.56" stroke-width="0.22">0.42%</text>
<text transform="translate(324.8,174.5) scale(0.64,1)" text-anchor="middle" font-size="9.3" fill="#fff" fill-opacity="0.56" stroke="#fff" stroke-opacity="0.56" stroke-width="0.22">0.35%</text>
<text transform="translate(346.7,174.5) scale(0.64,1)" text-anchor="middle" font-size="9.3" fill="#fff" fill-opacity="0.56" stroke="#fff" stroke-opacity="0.56" stroke-width="0.22">0.3%</text>
<text transform="translate(229.6,197.3) scale(0.64,1)" text-anchor="middle" font-size="9.3" fill="#fff" fill-opacity="0.56" stroke="#fff" stroke-opacity="0.56" stroke-width="0.22">0.55%</text>
<text transform="translate(229.6,223.5) scale(0.64,1)" text-anchor="middle" font-size="9.3" fill="#fff" fill-opacity="0.56" stroke="#fff" stroke-opacity="0.56" stroke-width="0.22">0.5%</text>
<text transform="translate(229.6,247.3) scale(0.64,1)" text-anchor="middle" font-size="9.3" fill="#fff" fill-opacity="0.56" stroke="#fff" stroke-opacity="0.56" stroke-width="0.22">0.46%</text>
<text transform="translate(269,194.9) scale(0.64,1)" text-anchor="middle" font-size="9.3" fill="#fff" fill-opacity="0.56" stroke="#fff" stroke-opacity="0.56" stroke-width="0.22">0.27%</text>
<text transform="translate(269,214.5) scale(0.64,1)" text-anchor="middle" font-size="9.3" fill="#fff" fill-opacity="0.56" stroke="#fff" stroke-opacity="0.56" stroke-width="0.22">0.27%</text>
<text transform="translate(269,231.3) scale(0.64,1)" text-anchor="middle" font-size="9.3" fill="#fff" fill-opacity="0.56" stroke="#fff" stroke-opacity="0.56" stroke-width="0.22">0.23%</text>
<text transform="translate(269,247.3) scale(0.64,1)" text-anchor="middle" font-size="9.3" fill="#fff" fill-opacity="0.56" stroke="#fff" stroke-opacity="0.56" stroke-width="0.22">0.22%</text>
<text transform="translate(295,199.9) scale(0.64,1)" text-anchor="middle" font-size="9.3" fill="#fff" fill-opacity="0.56" stroke="#fff" stroke-opacity="0.56" stroke-width="0.22">0.21%</text>
<text transform="translate(313.7,199.9) scale(0.64,1)" text-anchor="middle" font-size="9.3" fill="#fff" fill-opacity="0.56" stroke="#fff" stroke-opacity="0.56" stroke-width="0.22">0.19%</text>
<text transform="translate(331.7,199.9) scale(0.64,1)" text-anchor="middle" font-size="9.3" fill="#fff" fill-opacity="0.56" stroke="#fff" stroke-opacity="0.56" stroke-width="0.22">0.19%</text>
<text transform="translate(297.5,214.9) scale(0.64,1)" text-anchor="middle" font-size="9.3" fill="#fff" fill-opacity="0.56" stroke="#fff" stroke-opacity="0.56" stroke-width="0.22">0.16%</text>
<text transform="translate(297.5,225.7) scale(0.64,1)" text-anchor="middle" font-size="9.3" fill="#fff" fill-opacity="0.56" stroke="#fff" stroke-opacity="0.56" stroke-width="0.22">0.12%</text>
<text transform="translate(297.5,236.9) scale(0.64,1)" text-anchor="middle" font-size="9.3" fill="#fff" fill-opacity="0.56" stroke="#fff" stroke-opacity="0.56" stroke-width="0.22">0.11%</text>
<text transform="translate(297.5,247.3) scale(0.64,1)" text-anchor="middle" font-size="9.3" fill="#fff" fill-opacity="0.56" stroke="#fff" stroke-opacity="0.56" stroke-width="0.22">0.11%</text>
<text transform="translate(104.2,396.25) scale(0.78,1)" text-anchor="middle" font-size="20.5" fill="#332b2b" fill-opacity="0.5" stroke="#332b2b" stroke-opacity="0.5" stroke-width="0.2">13%</text>
<text transform="translate(274.4,340.5) scale(0.72,1)" text-anchor="middle" font-size="12" fill="#332b2b" fill-opacity="0.5" stroke="#332b2b" stroke-opacity="0.5" stroke-width="0.2">5%</text>
<text transform="translate(239.8,399.3) scale(0.64,1)" text-anchor="middle" font-size="9.3" fill="#332b2b" fill-opacity="0.5" stroke="#332b2b" stroke-opacity="0.5" stroke-width="0.2">2%</text>
<text transform="translate(290.5,372.3) scale(0.64,1)" text-anchor="middle" font-size="9.3" fill="#332b2b" fill-opacity="0.5" stroke="#332b2b" stroke-opacity="0.5" stroke-width="0.2">0.46%</text>
<text transform="translate(290.5,399.5) scale(0.64,1)" text-anchor="middle" font-size="9.3" fill="#332b2b" fill-opacity="0.5" stroke="#332b2b" stroke-opacity="0.5" stroke-width="0.2">0.43%</text>
<text transform="translate(386.4,50.9) scale(0.64,1)" text-anchor="middle" font-size="9.3" fill="#fff" fill-opacity="0.56" stroke="#fff" stroke-opacity="0.56" stroke-width="0.22">1%</text>
<text transform="translate(430.7,50.9) scale(0.64,1)" text-anchor="middle" font-size="9.3" fill="#fff" fill-opacity="0.56" stroke="#fff" stroke-opacity="0.56" stroke-width="0.22">0.63%</text>
<text transform="translate(466.4,34.7) scale(0.64,1)" text-anchor="middle" font-size="9.3" fill="#fff" fill-opacity="0.56" stroke="#fff" stroke-opacity="0.56" stroke-width="0.22">0.63%</text>
<text transform="translate(457.8,79.3) scale(0.64,1)" text-anchor="middle" font-size="9.3" fill="#fff" fill-opacity="0.56" stroke="#fff" stroke-opacity="0.56" stroke-width="0.22">0.47%</text>
<text transform="translate(377.5,81.0) scale(0.64,1)" text-anchor="middle" font-size="9.3" fill="#fff" fill-opacity="0.56" stroke="#fff" stroke-opacity="0.56" stroke-width="0.22">0.54%</text>
<text transform="translate(412.1,81.0) scale(0.64,1)" text-anchor="middle" font-size="9.3" fill="#fff" fill-opacity="0.56" stroke="#fff" stroke-opacity="0.56" stroke-width="0.22">0.36%</text>
<text transform="translate(435.5,81.0) scale(0.64,1)" text-anchor="middle" font-size="9.3" fill="#fff" fill-opacity="0.56" stroke="#fff" stroke-opacity="0.56" stroke-width="0.22">0.24%</text>
<text transform="translate(377.6,112.8) scale(0.64,1)" text-anchor="middle" font-size="9.3" fill="#fff" fill-opacity="0.56" stroke="#fff" stroke-opacity="0.56" stroke-width="0.22">0.53%</text>
<text transform="translate(377.6,133.7) scale(0.64,1)" text-anchor="middle" font-size="9.3" fill="#fff" fill-opacity="0.56" stroke="#fff" stroke-opacity="0.56" stroke-width="0.22">0.36%</text>
<text transform="translate(459.8,103.9) scale(0.64,1)" text-anchor="middle" font-size="9.3" fill="#fff" fill-opacity="0.56" stroke="#fff" stroke-opacity="0.56" stroke-width="0.22">0.3%</text>
<text transform="translate(374.2,173.5) scale(0.64,1)" text-anchor="middle" font-size="9.3" fill="#fff" fill-opacity="0.56" stroke="#fff" stroke-opacity="0.56" stroke-width="0.22">0.57%</text>
<text transform="translate(374.2,184.5) scale(0.64,1)" text-anchor="middle" font-size="9.3" fill="#fff" fill-opacity="0.56" stroke="#fff" stroke-opacity="0.56" stroke-width="0.22">0.16%</text>
<text transform="translate(426,165.3) scale(0.64,1)" text-anchor="middle" font-size="9.3" fill="#fff" fill-opacity="0.56" stroke="#fff" stroke-opacity="0.56" stroke-width="0.22">0.32%</text>
<text transform="translate(426.6,176.1) scale(0.64,1)" text-anchor="middle" font-size="9.3" fill="#fff" fill-opacity="0.56" stroke="#fff" stroke-opacity="0.56" stroke-width="0.22">0.12%</text>
<text transform="translate(507.3,58.9) scale(0.64,1)" text-anchor="middle" font-size="9.3" fill="#fff" fill-opacity="0.56" stroke="#fff" stroke-opacity="0.56" stroke-width="0.22">1%</text>
<text transform="translate(547.2,58.9) scale(0.64,1)" text-anchor="middle" font-size="9.3" fill="#fff" fill-opacity="0.56" stroke="#fff" stroke-opacity="0.56" stroke-width="0.22">1%</text>
<text transform="translate(583.4,58.9) scale(0.64,1)" text-anchor="middle" font-size="9.3" fill="#fff" fill-opacity="0.56" stroke="#fff" stroke-opacity="0.56" stroke-width="0.22">0.82%</text>
<text transform="translate(510.5,98.3) scale(0.64,1)" text-anchor="middle" font-size="9.3" fill="#fff" fill-opacity="0.56" stroke="#fff" stroke-opacity="0.56" stroke-width="0.22">0.76%</text>
<text transform="translate(510.5,127.5) scale(0.64,1)" text-anchor="middle" font-size="9.3" fill="#fff" fill-opacity="0.56" stroke="#fff" stroke-opacity="0.56" stroke-width="0.22">0.56%</text>
<text transform="translate(510.5,155.9) scale(0.64,1)" text-anchor="middle" font-size="9.3" fill="#fff" fill-opacity="0.56" stroke="#fff" stroke-opacity="0.56" stroke-width="0.22">0.56%</text>
<text transform="translate(551,95.5) scale(0.64,1)" text-anchor="middle" font-size="9.3" fill="#fff" fill-opacity="0.56" stroke="#fff" stroke-opacity="0.56" stroke-width="0.22">0.5%</text>
<text transform="translate(584,95.5) scale(0.64,1)" text-anchor="middle" font-size="9.3" fill="#fff" fill-opacity="0.56" stroke="#fff" stroke-opacity="0.56" stroke-width="0.22">0.47%</text>
<text transform="translate(552,120.9) scale(0.64,1)" text-anchor="middle" font-size="9.3" fill="#fff" fill-opacity="0.56" stroke="#fff" stroke-opacity="0.56" stroke-width="0.22">0.37%</text>
<text transform="translate(552,139.9) scale(0.64,1)" text-anchor="middle" font-size="9.3" fill="#fff" fill-opacity="0.56" stroke="#fff" stroke-opacity="0.56" stroke-width="0.22">0.29%</text>
<text transform="translate(552,155.9) scale(0.64,1)" text-anchor="middle" font-size="9.3" fill="#fff" fill-opacity="0.56" stroke="#fff" stroke-opacity="0.56" stroke-width="0.22">0.23%</text>
<text transform="translate(580,116.3) scale(0.64,1)" text-anchor="middle" font-size="9.3" fill="#fff" fill-opacity="0.56" stroke="#fff" stroke-opacity="0.56" stroke-width="0.22">0.18%</text>
<text transform="translate(497.3,184.5) scale(0.64,1)" text-anchor="middle" font-size="9.3" fill="#fff" fill-opacity="0.56" stroke="#fff" stroke-opacity="0.56" stroke-width="0.22">0.24%</text>
<text transform="translate(526.2,176.3) scale(0.64,1)" text-anchor="middle" font-size="9.3" fill="#fff" fill-opacity="0.56" stroke="#fff" stroke-opacity="0.56" stroke-width="0.22">0.16%</text>
<text transform="translate(578.5,174.9) scale(0.64,1)" text-anchor="middle" font-size="9.3" fill="#fff" fill-opacity="0.56" stroke="#fff" stroke-opacity="0.56" stroke-width="0.22">0.15%</text>
<text transform="translate(377,239.9) scale(0.64,1)" text-anchor="middle" font-size="9.3" fill="#332b2b" fill-opacity="0.45" stroke="#332b2b" stroke-opacity="0.45" stroke-width="0.2">0.92%</text>
<text transform="translate(377,265.5) scale(0.64,1)" text-anchor="middle" font-size="9.3" fill="#332b2b" fill-opacity="0.45" stroke="#332b2b" stroke-opacity="0.45" stroke-width="0.2">0.43%</text>
<text transform="translate(384.75,290.9) scale(0.64,1)" text-anchor="middle" font-size="9.3" fill="#332b2b" fill-opacity="0.45" stroke="#332b2b" stroke-opacity="0.45" stroke-width="0.2">0.6%</text>
<text transform="translate(384.75,308.5) scale(0.64,1)" text-anchor="middle" font-size="9.3" fill="#332b2b" fill-opacity="0.45" stroke="#332b2b" stroke-opacity="0.45" stroke-width="0.2">0.41%</text>
<text transform="translate(408.5,212.1) scale(0.64,1)" text-anchor="middle" font-size="9.3" fill="#332b2b" fill-opacity="0.45" stroke="#332b2b" stroke-opacity="0.45" stroke-width="0.2">0.25%</text>
<text transform="translate(404.6,229.7) scale(0.64,1)" text-anchor="middle" font-size="9.3" fill="#332b2b" fill-opacity="0.45" stroke="#332b2b" stroke-opacity="0.45" stroke-width="0.2">0.1%</text>
<text transform="translate(466.5,214.5) scale(0.64,1)" text-anchor="middle" font-size="9.3" fill="#332b2b" fill-opacity="0.45" stroke="#332b2b" stroke-opacity="0.45" stroke-width="0.2">0.41%</text>
<text transform="translate(459,233.9) scale(0.64,1)" text-anchor="middle" font-size="9.3" fill="#332b2b" fill-opacity="0.45" stroke="#332b2b" stroke-opacity="0.45" stroke-width="0.2">0.15%</text>
<text transform="translate(466.8,263.7) scale(0.64,1)" text-anchor="middle" font-size="9.3" fill="#332b2b" fill-opacity="0.45" stroke="#332b2b" stroke-opacity="0.45" stroke-width="0.2">0.4%</text>
<text transform="translate(461.2,281.5) scale(0.64,1)" text-anchor="middle" font-size="9.3" fill="#332b2b" fill-opacity="0.45" stroke="#332b2b" stroke-opacity="0.45" stroke-width="0.2">0.16%</text>
<text transform="translate(422.6,290.9) scale(0.64,1)" text-anchor="middle" font-size="9.3" fill="#332b2b" fill-opacity="0.45" stroke="#332b2b" stroke-opacity="0.45" stroke-width="0.2">0.2%</text>
<text transform="translate(441.3,290.9) scale(0.64,1)" text-anchor="middle" font-size="9.3" fill="#332b2b" fill-opacity="0.45" stroke="#332b2b" stroke-opacity="0.45" stroke-width="0.2">0.18%</text>
<text transform="translate(487.5,300.9) scale(0.64,1)" text-anchor="middle" font-size="9.3" fill="#332b2b" fill-opacity="0.45" stroke="#332b2b" stroke-opacity="0.45" stroke-width="0.2">0.19%</text>
<text transform="translate(507.3,297.3) scale(0.64,1)" text-anchor="middle" font-size="9.3" fill="#332b2b" fill-opacity="0.45" stroke="#332b2b" stroke-opacity="0.45" stroke-width="0.2">0.1%</text>
<text transform="translate(379.5,359.5) scale(0.64,1)" text-anchor="middle" font-size="9.3" fill="#332b2b" fill-opacity="0.45" stroke="#332b2b" stroke-opacity="0.45" stroke-width="0.2">0.96%</text>
<text transform="translate(379.5,380.1) scale(0.64,1)" text-anchor="middle" font-size="9.3" fill="#332b2b" fill-opacity="0.45" stroke="#332b2b" stroke-opacity="0.45" stroke-width="0.2">0.39%</text>
<text transform="translate(379.5,399.5) scale(0.64,1)" text-anchor="middle" font-size="9.3" fill="#332b2b" fill-opacity="0.45" stroke="#332b2b" stroke-opacity="0.45" stroke-width="0.2">0.38%</text>
<text transform="translate(415.4,340.5) scale(0.64,1)" text-anchor="middle" font-size="9.3" fill="#332b2b" fill-opacity="0.45" stroke="#332b2b" stroke-opacity="0.45" stroke-width="0.2">0.34%</text>
<text transform="translate(414.6,375.9) scale(0.64,1)" text-anchor="middle" font-size="9.3" fill="#332b2b" fill-opacity="0.45" stroke="#332b2b" stroke-opacity="0.45" stroke-width="0.2">0.12%</text>
<text transform="translate(414.6,387.5) scale(0.64,1)" text-anchor="middle" font-size="9.3" fill="#332b2b" fill-opacity="0.45" stroke="#332b2b" stroke-opacity="0.45" stroke-width="0.2">0.12%</text>
<text transform="translate(414.6,399.5) scale(0.64,1)" text-anchor="middle" font-size="9.3" fill="#332b2b" fill-opacity="0.45" stroke="#332b2b" stroke-opacity="0.45" stroke-width="0.2">0.11%</text>
<text transform="translate(487.4,357.7) scale(0.64,1)" text-anchor="middle" font-size="9.3" fill="#332b2b" fill-opacity="0.45" stroke="#332b2b" stroke-opacity="0.45" stroke-width="0.2">1%</text>
<text transform="translate(479.6,382.1) scale(0.64,1)" text-anchor="middle" font-size="9.3" fill="#332b2b" fill-opacity="0.45" stroke="#332b2b" stroke-opacity="0.45" stroke-width="0.2">0.39%</text>
<text transform="translate(479.6,399.5) scale(0.64,1)" text-anchor="middle" font-size="9.3" fill="#332b2b" fill-opacity="0.45" stroke="#332b2b" stroke-opacity="0.45" stroke-width="0.2">0.29%</text>
<text transform="translate(537.2,226.7) scale(0.64,1)" text-anchor="middle" font-size="9.3" fill="#fff" fill-opacity="0.56" stroke="#fff" stroke-opacity="0.56" stroke-width="0.22">0.77%</text>
<text transform="translate(586.5,211.5) scale(0.64,1)" text-anchor="middle" font-size="9.3" fill="#fff" fill-opacity="0.56" stroke="#fff" stroke-opacity="0.56" stroke-width="0.22">0.29%</text>
<text transform="translate(533.1,243.7) scale(0.64,1)" text-anchor="middle" font-size="9.3" fill="#fff" fill-opacity="0.56" stroke="#fff" stroke-opacity="0.56" stroke-width="0.22">0.25%</text>
<text transform="translate(533.1,256.7) scale(0.64,1)" text-anchor="middle" font-size="9.3" fill="#fff" fill-opacity="0.56" stroke="#fff" stroke-opacity="0.56" stroke-width="0.22">0.19%</text>
<text transform="translate(540,338.5) scale(0.64,1)" text-anchor="middle" font-size="9.3" fill="#fff" fill-opacity="0.56" stroke="#fff" stroke-opacity="0.56" stroke-width="0.22">1%</text>
<text transform="translate(526.6,351.3) scale(0.64,1)" text-anchor="middle" font-size="9.3" fill="#fff" fill-opacity="0.56" stroke="#fff" stroke-opacity="0.56" stroke-width="0.22">0.12%</text>
<text transform="translate(574.4,288.3) scale(0.64,1)" text-anchor="middle" font-size="9.3" fill="#fff" fill-opacity="0.56" stroke="#fff" stroke-opacity="0.56" stroke-width="0.22">0.15%</text>
<text transform="translate(574.4,301.9) scale(0.64,1)" text-anchor="middle" font-size="9.3" fill="#fff" fill-opacity="0.56" stroke="#fff" stroke-opacity="0.56" stroke-width="0.22">0.11%</text>
</g>
</svg>
</body></html>
